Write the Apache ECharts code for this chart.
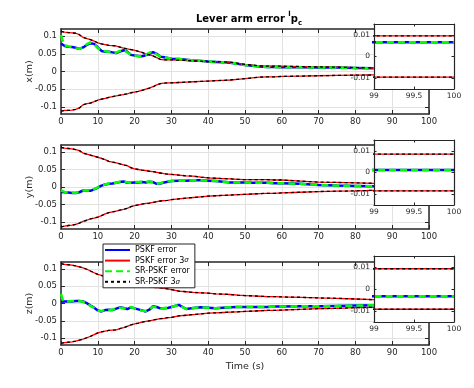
<!DOCTYPE html>
<html>
<head>
<meta charset="utf-8">
<script src="https://cdn.jsdelivr.net/npm/echarts@6/dist/echarts.min.js"></script>
<style>html,body{margin:0;padding:0;background:#fff}#c{width:474px;height:388px}</style>
</head>
<body>
<div id="c"></div>
<script>
// time stamps (s)
const T = [0,0.5,1,2,3,4,5,6, 7,8,9,10,11,12,13,14, 15,16,17,18,19,20,21,22, 23,24,25,26,27,28,29,30,
  32,34,36,38,40,42,44,46, 48,50,52,54,56,58,60,65, 70,75,80,85,90,95,99,100];

// x component
const xSigUp = [.113,.112,.111,.110,.109,.108,.104,.096, .093,.090,.086,.081,.078,.076,.074,.073,
  .072,.069,.066,.064,.062,.060,.057,.054, .050,.047,.044,.039,.034,.033,.033,.033,
  .032,.031,.030,.029,.028,.028,.027,.026, .023,.020,.018,.016,.015,.015,.015,.014,
  .013,.012,.011,.0098,.0096,.0095,.0095,.0095];
const xSigLo = [-.112,-.111,-.110,-.110,-.109,-.107,-.103,-.094, -.091,-.089,-.085,-.081,-.078,-.076,-.073,-.071,
  -.069,-.067,-.065,-.063,-.060,-.058,-.056,-.053, -.050,-.047,-.043,-.038,-.034,-.033,-.032,-.032,
  -.031,-.030,-.029,-.028,-.027,-.026,-.025,-.024, -.022,-.020,-.018,-.016,-.015,-.015,-.014,-.013,
  -.012,-.011,-.0105,-.0098,-.0096,-.0095,-.0095,-.0095];
const xErrP = [.079,.075,.072,.070,.069,.067,.064,.068, .075,.080,.078,.068,.058,.056,.056,.054,
  .052,.056,.060,.056,.047,.045,.044,.043, .046,.050,.055,.050,.042,.040,.038,.036,
  .035,.033,.031,.030,.028,.027,.026,.025, .022,.018,.016,.014,.013,.0125,.012,.012,
  .011,.011,.010,.009,.008,.007,.0066,.0066];
const xErrSR = [.103,.085,.074,.071,.069,.066,.064,.069, .077,.082,.077,.066,.059,.057,.055,.053,
  .053,.058,.061,.054,.048,.045,.043,.043, .047,.053,.056,.048,.042,.040,.038,.036,
  .035,.033,.031,.030,.028,.027,.026,.025, .022,.018,.016,.014,.013,.0125,.012,.012,
  .011,.011,.010,.009,.008,.007,.0066,.0066];

// y component
const ySigUp = [.113,.112,.111,.110,.109,.107,.104,.097, .094,.091,.088,.085,.082,.078,.073,.071,
  .069,.066,.063,.061,.055,.052,.050,.048, .047,.045,.044,.042,.040,.038,.037,.036,
  .034,.032,.031,.028,.026,.025,.024,.023, .022,.021,.021,.021,.021,.020,.020,.017,
  .014,.013,.012,.0105,.0095,.009,.0085,.0085];
const ySigLo = [-.114,-.113,-.112,-.110,-.109,-.107,-.103,-.098, -.095,-.091,-.089,-.086,-.082,-.077,-.073,-.071,
  -.069,-.066,-.064,-.061,-.056,-.053,-.051,-.049, -.047,-.046,-.044,-.042,-.040,-.039,-.038,-.036,
  -.034,-.032,-.030,-.028,-.026,-.025,-.024,-.023, -.022,-.021,-.020,-.019,-.018,-.018,-.017,-.015,
  -.013,-.012,-.011,-.0095,-.009,-.0087,-.0085,-.0085];
const yErrP = [-.0145,-.015,-.015,-.016,-.017,-.017,-.015,-.010, -.010,-.011,-.007,-.002,.004,.007,.009,.010,
  .012,.014,.016,.012,.012,.013,.013,.014, .013,.015,.014,.009,.010,.013,.015,.017,
  .018,.018,.019,.019,.018,.017,.015,.013, .013,.013,.012,.012,.012,.011,.011,.009,
  .006,.004,.003,.002,.0015,.0013,.0012,.0012];
const yErrSR = [-.010,-.013,-.014,-.015,-.016,-.017,-.014,-.010, -.009,-.010,-.006,-.001,.005,.007,.010,.011,
  .012,.015,.017,.013,.012,.014,.014,.015, .014,.016,.013,.009,.011,.014,.016,.017,
  .018,.018,.019,.019,.018,.017,.015,.013, .013,.013,.012,.012,.012,.011,.011,.009,
  .006,.004,.003,.002,.0015,.0013,.0012,.0012];

// z component
const zSigUp = [.115,.114,.113,.112,.111,.109,.106,.103, .099,.094,.089,.084,.081,.079,.078,.077,
  .076,.073,.069,.066,.063,.060,.058,.055, .052,.049,.047,.046,.045,.044,.042,.040,
  .036,.034,.032,.031,.030,.028,.027,.026, .024,.023,.022,.021,.020,.020,.019,.018,
  .016,.015,.013,.011,.010,.0095,.0092,.0092];
const zSigLo = [-.115,-.114,-.113,-.112,-.111,-.109,-.106,-.103, -.099,-.095,-.090,-.085,-.082,-.080,-.078,-.077,
  -.076,-.073,-.070,-.066,-.062,-.059,-.057,-.054, -.052,-.050,-.048,-.046,-.044,-.043,-.041,-.040,
  -.036,-.034,-.032,-.030,-.028,-.027,-.026,-.025, -.024,-.023,-.022,-.021,-.020,-.020,-.019,-.017,
  -.015,-.014,-.012,-.011,-.010,-.0095,-.0092,-.0092];
const zErrP = [.005,.005,.006,.006,.006,.007,.007,.006, .001,-.006,-.012,-.020,-.023,-.019,-.018,-.019,
  -.015,-.011,-.013,-.016,-.011,-.014,-.017,-.020, -.023,-.018,-.008,-.010,-.014,-.014,-.013,-.010,
  -.004,-.016,-.013,-.011,-.012,-.014,-.012,-.011, -.010,-.010,-.010,-.010,-.010,-.009,-.009,-.008,
  -.008,-.007,-.006,-.005,-.004,-.0035,-.0033,-.0033];
const zErrSR = [.028,.010,.007,.006,.007,.008,.007,.005, .000,-.007,-.013,-.021,-.022,-.018,-.019,-.018,
  -.014,-.012,-.014,-.015,-.010,-.015,-.018,-.021, -.022,-.017,-.009,-.011,-.015,-.013,-.012,-.010,
  -.004,-.016,-.013,-.011,-.012,-.014,-.012,-.011, -.010,-.010,-.010,-.010,-.010,-.009,-.009,-.008,
  -.008,-.007,-.006,-.005,-.004,-.0035,-.0033,-.0033];

const yAxisNames = ['x(m)', 'y(m)', 'z(m)'];
const mainYTicks = [-0.1, -0.05, 0, 0.05, 0.1];
const insetYTicks = [-0.01, 0, 0.01];
const legendNames = ['PSKF error', 'PSKF error 3σ', 'SR-PSKF error', 'SR-PSKF 3σ'];

const plots = [
  {errP: xErrP, errSR: xErrSR, up: xSigUp, lo: xSigLo},
  {errP: yErrP, errSR: yErrSR, up: ySigUp, lo: ySigLo},
  {errP: zErrP, errSR: zErrSR, up: zSigUp, lo: zSigLo}
];

const FONT = 'DejaVu Sans';
const AX = '#262626';
const mainGrids = [
  {left: 61, top: 29, width: 368, height: 85},
  {left: 61, top: 145, width: 368, height: 84},
  {left: 61, top: 262, width: 368, height: 83}
];
const insetGrids = [
  {left: 374, top: 24, width: 80, height: 65},
  {left: 374, top: 140, width: 80, height: 65},
  {left: 374, top: 256, width: 80, height: 66}
];

function zip(vals) { return T.map((t, i) => [t, vals[i]]); }

const grid = [], xAxis = [], yAxis = [], series = [];
function fmt(v) { return String(+v.toFixed(4)); }

function addAxes(gi, isInset, plotIdx) {
  const z = isInset ? 12 : 0;
  const lineW = isInset ? 1.2 : 1.5;
  const fs = isInset ? 7.5 : 8.5;
  const xo = isInset ? {min: 99, max: 100, interval: 0.5} : {min: 0, max: 100, interval: 10};
  const tickLen = isInset ? 2.5 : 4;
  const xb = xAxis.length;
  xAxis.push(Object.assign({
    type: 'value', gridIndex: gi, position: 'bottom', z: z,
    axisLine: {show: true, onZero: false, lineStyle: {color: AX, width: lineW}},
    axisTick: {show: true, inside: true, length: tickLen, lineStyle: {color: AX, width: 1}},
    axisLabel: {show: true, margin: 3, fontSize: fs, color: AX, fontFamily: FONT, formatter: fmt},
    splitLine: {show: !isInset, lineStyle: {color: '#e2e2e2', width: 1}}
  }, xo, (!isInset && plotIdx === 2) ? {
    name: 'Time (s)', nameLocation: 'middle', nameGap: 17, nameMoveOverlap: false,
    nameTextStyle: {fontSize: 9.5, color: AX, fontFamily: FONT}
  } : {}));
  xAxis.push(Object.assign({
    type: 'value', gridIndex: gi, position: 'top', z: z,
    axisLine: {show: true, onZero: false, lineStyle: {color: AX, width: lineW}},
    axisTick: {show: true, inside: true, length: tickLen, lineStyle: {color: AX, width: 1}},
    axisLabel: {show: false}, splitLine: {show: false}
  }, xo));
  const yo = isInset ? {min: -0.015, max: 0.015} : {min: -0.12, max: 0.12};
  const ticks = isInset ? insetYTicks : mainYTicks;
  const yb = yAxis.length;
  yAxis.push(Object.assign({
    type: 'value', gridIndex: gi, position: 'left', z: z,
    axisLine: {show: true, onZero: false, lineStyle: {color: AX, width: lineW}},
    axisTick: {show: true, inside: true, length: tickLen, customValues: ticks, lineStyle: {color: AX, width: 1}},
    axisLabel: {show: true, margin: 4, fontSize: fs, color: AX, fontFamily: FONT, customValues: ticks, formatter: fmt},
    splitLine: {show: !isInset, lineStyle: {color: '#e2e2e2', width: 1}}
  }, yo, isInset ? {} : {
    name: yAxisNames[plotIdx], nameLocation: 'middle', nameGap: 26, nameRotate: 90, nameMoveOverlap: false,
    nameTextStyle: {fontSize: 9.5, color: AX, fontFamily: FONT}
  }));
  yAxis.push(Object.assign({
    type: 'value', gridIndex: gi, position: 'right', z: z,
    axisLine: {show: true, onZero: false, lineStyle: {color: AX, width: lineW}},
    axisTick: {show: true, inside: true, length: tickLen, customValues: ticks, lineStyle: {color: AX, width: 1}},
    axisLabel: {show: false}, splitLine: {show: false}
  }, yo));
  return {xa: xb, ya: yb};
}

function addSeries(p, ax, isInset) {
  const z = isInset ? 11 : 2;
  const thick = 2.5, thin = 1.3;
  const base = {type: 'line', xAxisIndex: ax.xa, yAxisIndex: ax.ya, symbol: 'none', showSymbol: false,
    silent: true, z: z, clip: true, animation: false};
  series.push(Object.assign({}, base, {name: legendNames[0], data: zip(p.errP),
    itemStyle: {color: '#0000ff'}, lineStyle: {color: '#0000ff', width: thick}}));
  series.push(Object.assign({}, base, {name: legendNames[1], data: zip(p.up),
    itemStyle: {color: '#ff0000'}, lineStyle: {color: '#ff0000', width: thin}}));
  series.push(Object.assign({}, base, {name: legendNames[1], data: zip(p.lo),
    itemStyle: {color: '#ff0000'}, lineStyle: {color: '#ff0000', width: thin}}));
  series.push(Object.assign({}, base, {name: legendNames[2], data: zip(p.errSR),
    itemStyle: {color: '#00ff00'}, lineStyle: {color: '#00ff00', width: thick, type: [7, 4]}}));
  series.push(Object.assign({}, base, {name: legendNames[3], data: zip(p.up),
    itemStyle: {color: '#000000'}, lineStyle: {color: '#000000', width: thin, type: [3, 3]}}));
  series.push(Object.assign({}, base, {name: legendNames[3], data: zip(p.lo),
    itemStyle: {color: '#000000'}, lineStyle: {color: '#000000', width: thin, type: [3, 3]}}));
}

for (let i = 0; i < 3; i++) {
  grid.push(Object.assign({show: false, containLabel: false}, mainGrids[i]));
}
for (let i = 0; i < 3; i++) {
  grid.push(Object.assign({show: true, containLabel: false, backgroundColor: '#ffffff',
    borderWidth: 0, z: 10}, insetGrids[i]));
}
for (let i = 0; i < 3; i++) {
  const ax = addAxes(i, false, i);
  addSeries(plots[i], ax, false);
}
for (let i = 0; i < 3; i++) {
  const ax = addAxes(3 + i, true, i);
  addSeries(plots[i], ax, true);
}

const chart = echarts.init(document.getElementById('c'), null, {renderer: 'canvas'});
chart.setOption({
  animation: false,
  backgroundColor: '#ffffff',
  title: {
    text: '{a|Lever arm error }{b|l}{p|p}{c|c}',
    left: 244, top: 6, textAlign: 'center',
    textStyle: {
      rich: {
        a: {fontSize: 10, fontWeight: 'bold', fontFamily: FONT, color: '#000', lineHeight: 16, verticalAlign: 'middle'},
        b: {fontSize: 7, fontWeight: 'bold', fontFamily: FONT, color: '#000', verticalAlign: 'top', lineHeight: 9},
        p: {fontSize: 10, fontWeight: 'bold', fontFamily: FONT, color: '#000', lineHeight: 16, verticalAlign: 'middle'},
        c: {fontSize: 7, fontWeight: 'bold', fontFamily: FONT, color: '#000', verticalAlign: 'bottom', lineHeight: 9}
      }
    }
  },
  legend: {
    data: legendNames,
    orient: 'vertical', left: 103, top: 244, z: 20,
    itemWidth: 25, itemHeight: 8, itemGap: 2.6,
    padding: [2, 5, 2, 1],
    borderColor: '#262626', borderWidth: 1, backgroundColor: '#ffffff',
    itemStyle: {opacity: 0},
    textStyle: {fontSize: 8, color: '#000', fontFamily: FONT,
      rich: {s: {fontSize: 7, fontStyle: 'italic', color: '#000', fontFamily: FONT}}},
    formatter: function (name) { return name.replace('3σ', '3{s|σ}'); },
    selectedMode: false
  },
  grid: grid,
  xAxis: xAxis,
  yAxis: yAxis,
  series: series
});
</script>
</body>
</html>
